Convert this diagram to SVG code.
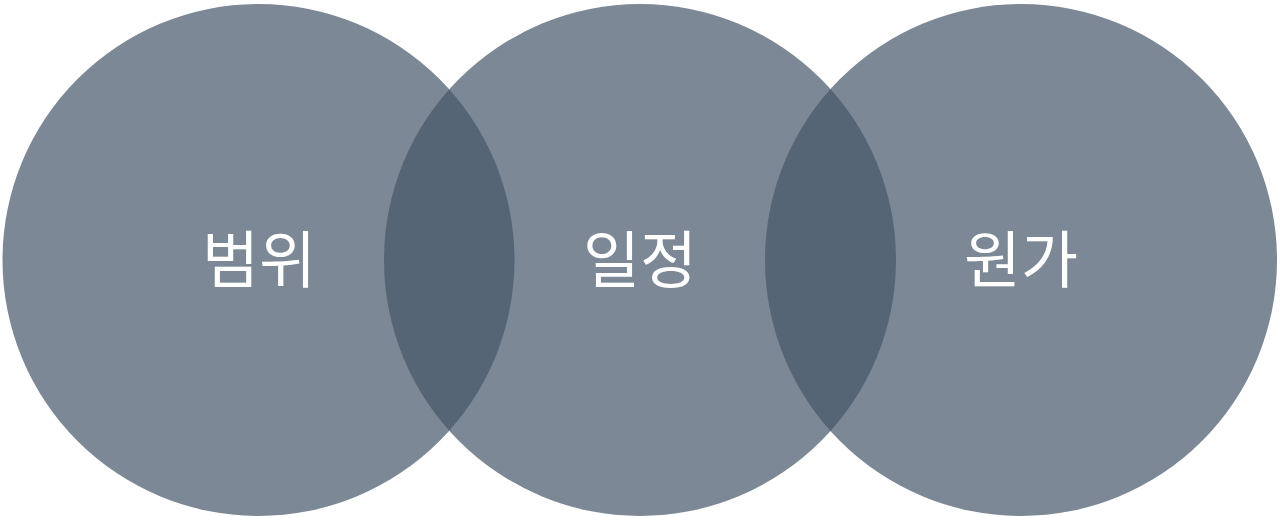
<svg xmlns="http://www.w3.org/2000/svg" width="1280" height="516" viewBox="0 0 1280 516">
<style>
.c{fill:#465769;fill-opacity:0.71}
.t{font-family:"Noto Sans CJK KR","Noto Sans",sans-serif;font-size:62px;fill:#ffffff;text-anchor:middle;font-weight:400}
</style>
<rect width="1280" height="516" fill="#ffffff"/>
<g id="scope"><circle class="c" cx="258.5" cy="260" r="256"/><text class="t" x="259" y="283">범위</text></g>
<g id="schedule"><circle class="c" cx="640" cy="260" r="256"/><text class="t" x="640" y="283">일정</text></g>
<g id="cost"><circle class="c" cx="1021" cy="260" r="256"/><text class="t" x="1021" y="283">원가</text></g>
<g id="connectors"></g>
</svg>
